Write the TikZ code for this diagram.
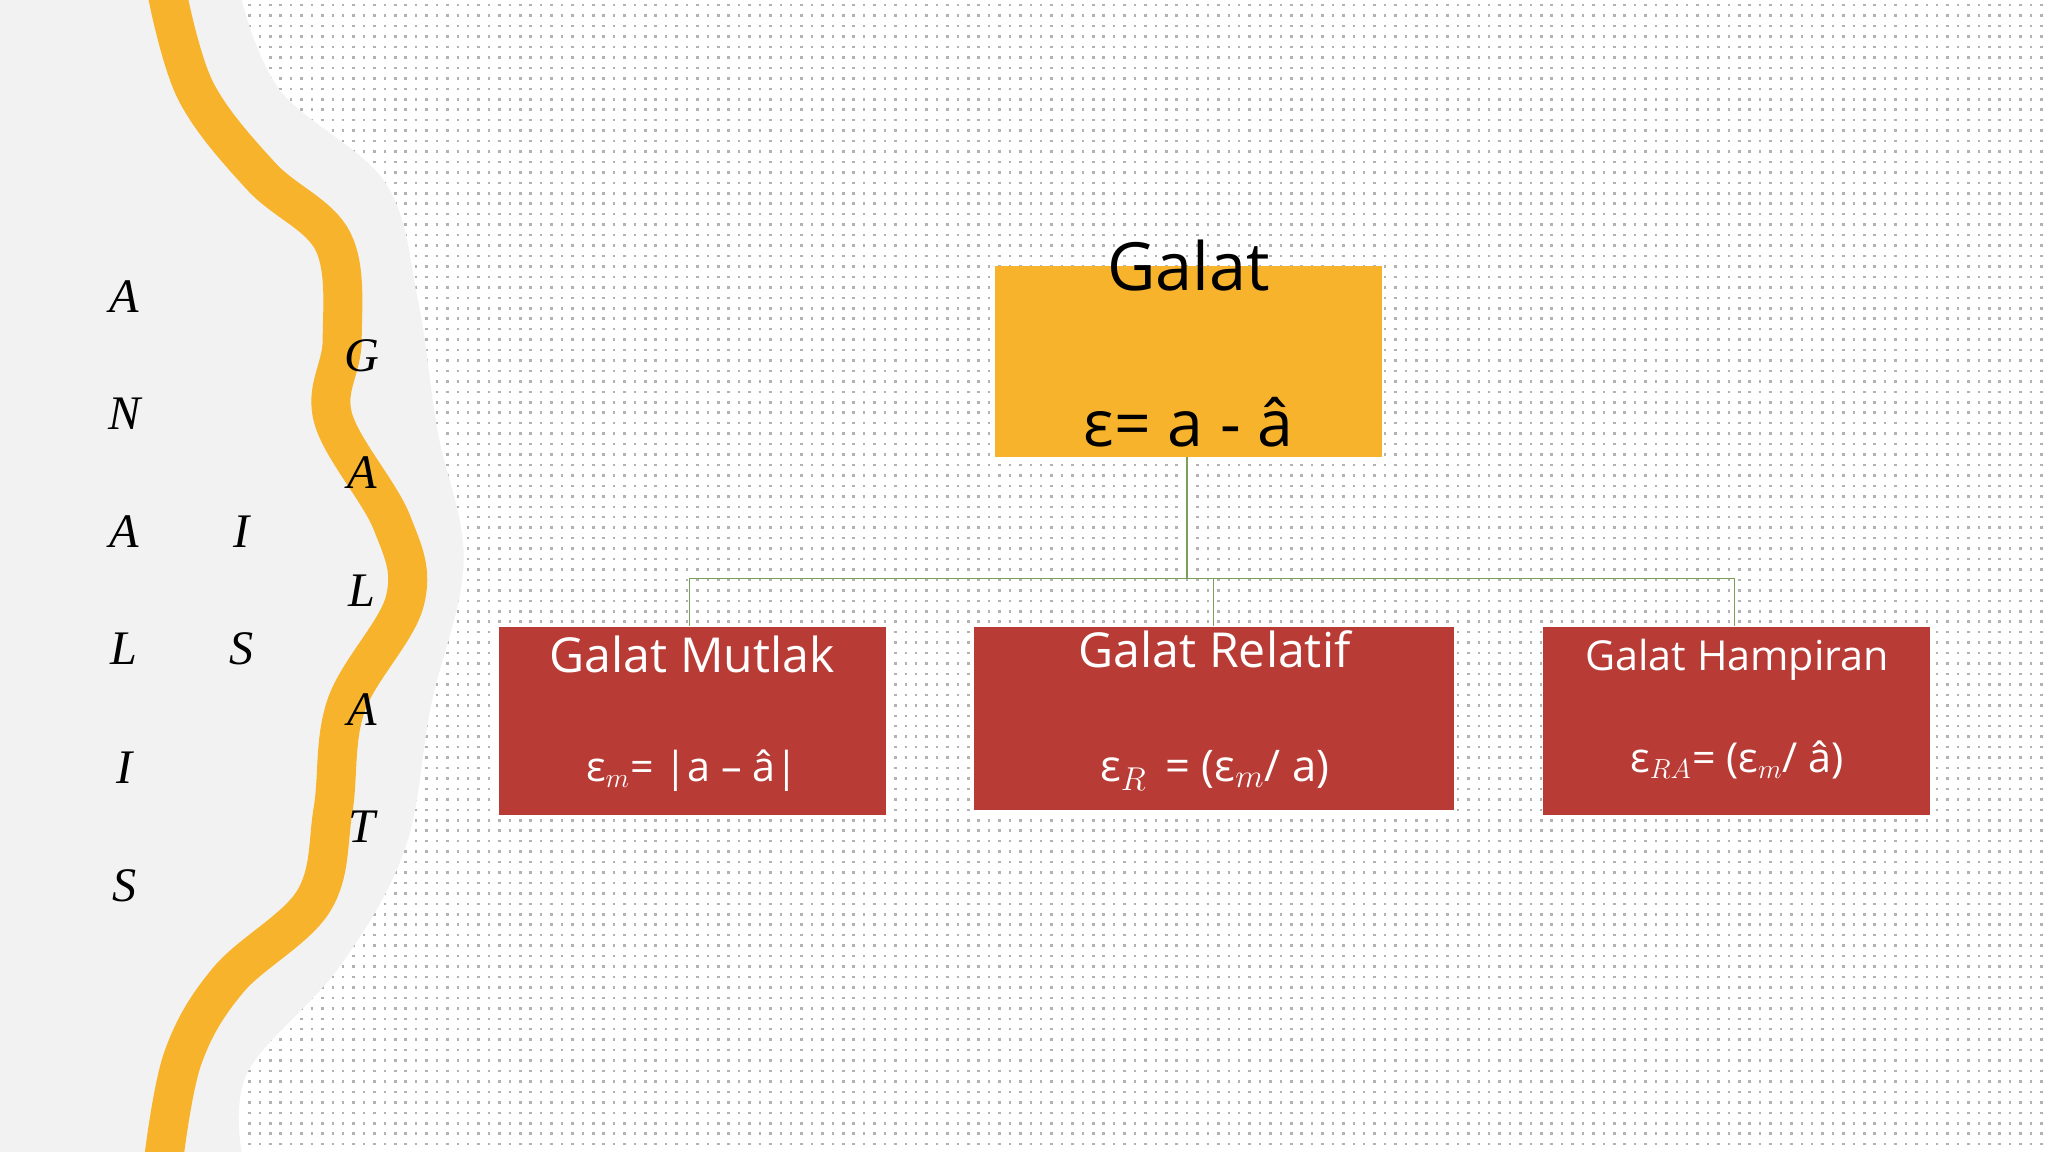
\documentclass[tikz,border=0pt]{standalone}
\usepackage{fontspec}
\setmainfont{Open Sans}
\newfontfamily\lett{Liberation Serif}
\definecolor{orng}{HTML}{F7B32B}
\definecolor{redb}{HTML}{B83B35}
\definecolor{lgray}{HTML}{F2F2F2}
\definecolor{lnk}{HTML}{7BA05B}
\begin{document}
\begin{tikzpicture}[x=0.02cm,y=-0.02cm,
  redbox/.style={fill=redb,draw=white,line width=0.8pt},
  lt/.style={font=\lett\itshape\fontsize{21}{21}\selectfont},
  conn/.style={draw=lnk,line width=0.7pt}]
\useasboundingbox (0,0) rectangle (1568,882);
\fill[white] (0,0) rectangle (1568,882);
\foreach \y in {4,12,...,880}
  \draw[gray!60,line width=1.1pt,dash pattern=on 1.1pt off 3.44pt] (190,\y) -- (1568,\y);
% gray wavy region
\fill[lgray] (0,0) -- (185,0) -- plot[smooth,tension=0.6] coordinates {(185,0) (215,70) (295,140) (320,230) (335,330) (355,430) (330,540) (310,650) (260,740) (190,820) (185,882)} -- (0,882) -- cycle;
% orange band
\draw[orng,line width=17pt] plot[smooth,tension=0.6] coordinates {(128,-5) (150,70) (200,135) (255,185) (262,260) (255,320) (300,400) (310,460) (265,540) (255,620) (240,690) (175,750) (140,810) (125,890)};
% letters
\foreach \l/\y in {A/227,N/317,A/407,L/497,I/588,S/678} \node[lt] at (95,\y) {\l};
\foreach \l/\y in {I/407,S/497} \node[lt] at (185,\y) {\l};
\foreach \l/\y in {G/272,A/362,L/452,A/543,T/633} \node[lt] at (277,\y) {\l};
% top box
\fill[orng] (762,204) rectangle (1058,350);
\node (top) at (910,277) [minimum width=296*0.02cm,minimum height=146*0.02cm] {};
\node[font=\fontsize{29}{29}\selectfont] at (910,203) {Galat};
\node[font=\fontsize{28}{28}\selectfont] at (910,323) {ε= a - â};
% boxes
\draw[redbox] (381,479) rectangle (679,625);
\draw[redbox] (745,479) rectangle (1114,621);
\draw[redbox] (1181,479) rectangle (1478,625);
\coordinate (b1) at (528,479); \coordinate (b2) at (929,479); \coordinate (b3) at (1328,479);
\coordinate (tb) at (909,350);
\draw[conn] (tb) -- (909,443);
\draw[conn] (b1) -- (528,443) -- (1328,443) -- (b3);
\draw[conn] (929,443) -- (b2);
\node[white,font=\fontsize{21}{21}\selectfont] at (530,501) {Galat Mutlak};
\node[white,font=\fontsize{18}{18}\selectfont] at (530,590) {ε$_{m}$= |a – â|};
\node[white,font=\fontsize{21}{21}\selectfont] at (930,497) {Galat Relatif};
\node[white,font=\fontsize{19}{19}\selectfont] at (930,590) {ε$_{R}$ \,= (ε$_{m}$/ a)};
\node[white,font=\fontsize{18}{18}\selectfont] at (1330,505) {Galat Hampiran};
\node[white,font=\fontsize{18}{18}\selectfont] at (1330,582) {ε$_{RA}$= (ε$_{m}$/ â)};
\end{tikzpicture}
\end{document}
